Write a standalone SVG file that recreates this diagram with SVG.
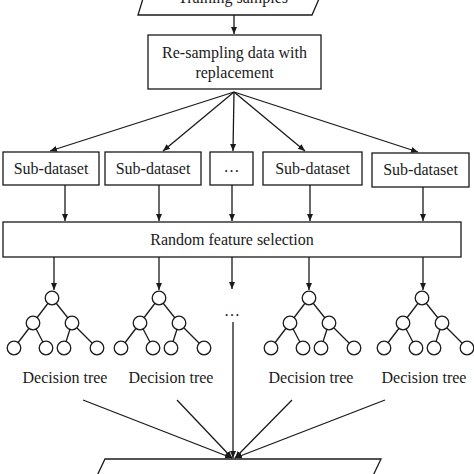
<svg xmlns="http://www.w3.org/2000/svg" width="474" height="474" viewBox="0 0 474 474">
<defs>
<marker id="ah" markerWidth="8" markerHeight="8" refX="7" refY="4" orient="auto" markerUnits="userSpaceOnUse">
<path d="M0,1 L7,4 L0,7 Z" fill="#1a1a1a"/>
</marker>
<g id="tree" stroke="#1a1a1a" stroke-width="1.3" fill="#fff">
<line x1="0" y1="0" x2="-19" y2="25"/>
<line x1="0" y1="0" x2="20" y2="25"/>
<line x1="-19" y1="25" x2="-38" y2="50"/>
<line x1="-19" y1="25" x2="-6" y2="50"/>
<line x1="20" y1="25" x2="12" y2="50"/>
<line x1="20" y1="25" x2="45" y2="50"/>
<circle cx="0" cy="0" r="6.8"/>
<circle cx="-19" cy="25" r="6.8"/>
<circle cx="20" cy="25" r="6.8"/>
<circle cx="-38" cy="50" r="6.8"/>
<circle cx="-6" cy="50" r="6.8"/>
<circle cx="12" cy="50" r="6.8"/>
<circle cx="45" cy="50" r="6.8"/>
</g>
</defs>
<style>
text{font-family:"Liberation Serif","Times New Roman",serif;font-size:16px;fill:#1a1a1a;text-anchor:middle}
.box{fill:#fff;stroke:#1a1a1a;stroke-width:1.3}
.c line{stroke:#1a1a1a;stroke-width:1.3;marker-end:url(#ah)}
</style>
<rect width="474" height="474" fill="#fff"/>

<g id="training">
<polygon class="box" points="145,-8 322,-8 312,15 138,15"/>
<text x="233" y="3">Training samples</text>
</g>

<g id="resampling">
<rect class="box" x="148" y="35" width="173" height="54"/>
<text x="234.5" y="58">Re-sampling data with</text>
<text x="234.5" y="78">replacement</text>
</g>

<g id="sub1"><rect class="box" x="3" y="152" width="96" height="33"/><text x="51" y="174">Sub-dataset</text></g>
<g id="sub2"><rect class="box" x="105" y="152" width="96" height="33"/><text x="153" y="174">Sub-dataset</text></g>
<g id="sub3"><rect class="box" x="210" y="152" width="43" height="33"/><text x="231.5" y="172">…</text></g>
<g id="sub4"><rect class="box" x="263" y="152" width="99" height="33"/><text x="312.5" y="174">Sub-dataset</text></g>
<g id="sub5"><rect class="box" x="372" y="153" width="97" height="34"/><text x="420.5" y="175">Sub-dataset</text></g>

<g id="random">
<rect class="box" x="3" y="222" width="458" height="35"/>
<text x="232" y="245">Random feature selection</text>
</g>

<g id="tree1"><use href="#tree" x="52" y="298"/><text x="65" y="383">Decision tree</text></g>
<g id="tree2"><use href="#tree" x="159" y="298"/><text x="171" y="383">Decision tree</text></g>
<g id="ellipsis"><text x="232" y="316">…</text></g>
<g id="tree3"><use href="#tree" x="309" y="298"/><text x="311" y="383">Decision tree</text></g>
<g id="tree4"><use href="#tree" x="422" y="298"/><text x="424" y="383">Decision tree</text></g>

<g id="result">
<polygon class="box" points="105,459 381,459 370,482 94,482"/>
</g>

<g id="connectors" class="c">
<line x1="234" y1="15" x2="234" y2="34"/>
<line x1="234" y1="92" x2="50" y2="151"/>
<line x1="234" y1="92" x2="163" y2="151"/>
<line x1="234" y1="92" x2="233" y2="151"/>
<line x1="234" y1="92" x2="305" y2="151"/>
<line x1="234" y1="92" x2="418" y2="152"/>
<line x1="65" y1="185" x2="65" y2="221"/>
<line x1="159" y1="185" x2="159" y2="221"/>
<line x1="232" y1="185" x2="232" y2="221"/>
<line x1="310" y1="185" x2="310" y2="221"/>
<line x1="423" y1="187" x2="423" y2="221"/>
<line x1="54" y1="257" x2="54" y2="290"/>
<line x1="159" y1="257" x2="159" y2="290"/>
<line x1="232" y1="257" x2="232" y2="289"/>
<line x1="309" y1="257" x2="309" y2="290"/>
<line x1="423" y1="257" x2="423" y2="290"/>
<line x1="233" y1="322" x2="233" y2="458"/>
<line x1="83" y1="400" x2="232" y2="458"/>
<line x1="177" y1="400" x2="232" y2="458"/>
<line x1="292" y1="400" x2="235" y2="458"/>
<line x1="385" y1="400" x2="235" y2="458"/>
</g>
</svg>
